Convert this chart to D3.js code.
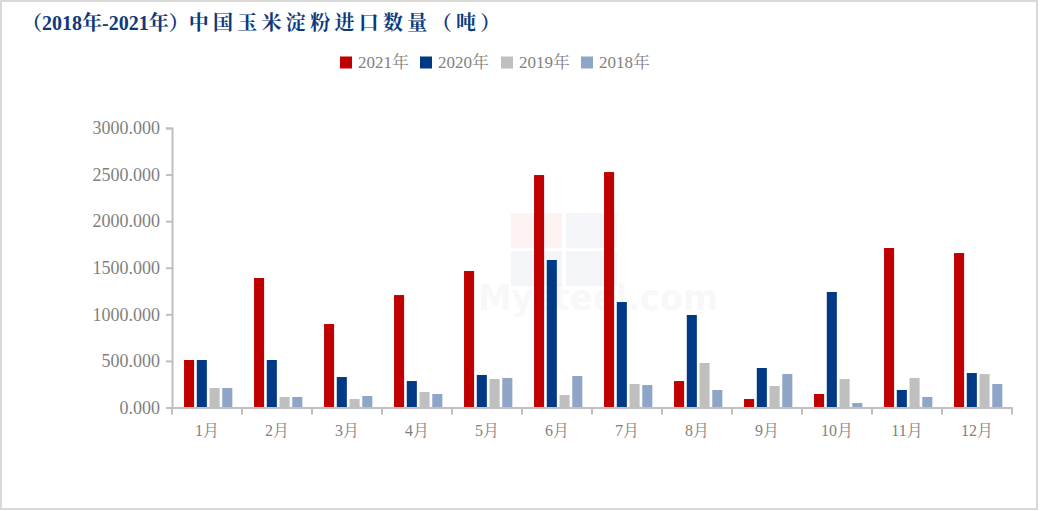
<!DOCTYPE html>
<html><head><meta charset="utf-8">
<script src="https://cdn.jsdelivr.net/npm/d3@7"></script>
<style>
html,body{margin:0;padding:0;background:#fff;}
svg{display:block;}
</style></head>
<body>
<svg id="chart" width="1040" height="511"></svg>
<script>
const months = ["1月","2月","3月","4月","5月","6月","7月","8月","9月","10月","11月","12月"];
const seriesNames = ["2021年","2020年","2019年","2018年"];
const seriesColors = ["#c00000","#003a87","#bfbfbf","#8ea5c8"];
const v2021 = [510,1390,896,1207,1465,2495,2527,284,91,145,1712,1658];
const v2020 = [510,510,327,284,349,1583,1132,993,424,1240,188,370];
const v2019 = [209,113,91,166,306,134,252,478,231,306,317,359];
const v2018 = [209,113,123,145,317,338,241,188,359,48,113,252];
const yTicks = [0,500,1000,1500,2000,2500,3000];
const titleA = "（2018年-2021年）";
const titleB = "中国玉米淀粉进口数量（吨）";

const allSeries = [v2021, v2020, v2019, v2018];
const svg = d3.select("#chart");
const serif = "'Liberation Serif','Times New Roman','Noto Serif CJK SC','Noto Sans CJK SC',serif";

// frame
svg.append("rect").attr("x",1).attr("y",1).attr("width",1036).attr("height",508)
  .attr("fill","#fff").attr("stroke","#d9d9d9").attr("stroke-width",2);

// title
const title = svg.append("text").attr("x",22).attr("y",30)
  .attr("font-family",serif).attr("font-weight","bold").attr("font-size",20)
  .attr("fill","#0d3a7c");
title.append("tspan").text(titleA);
title.append("tspan").attr("letter-spacing",4.3).text(titleB);

const plotL = 172, plotR = 1012, plotT = 128, plotB = 407.5;
const x0 = d3.scaleBand().domain(months).range([plotL,plotR]).padding(0);
const x1 = d3.scaleBand().domain(seriesNames)
  .range([x0.bandwidth()*0.172, x0.bandwidth()*0.862]).paddingInner(0.21).paddingOuter(0);
const y = d3.scaleLinear().domain([0,3000]).range([plotB, plotT]);

// watermark
const wm = svg.append("g").attr("opacity",0.05);
wm.append("rect").attr("x",511).attr("y",213).attr("width",51).attr("height",35).attr("fill","#e03020");
wm.append("rect").attr("x",566).attr("y",213).attr("width",51).attr("height",35).attr("fill","#3050a0");
wm.append("rect").attr("x",511).attr("y",251).attr("width",51).attr("height",35).attr("fill","#3050a0");
wm.append("rect").attr("x",566).attr("y",251).attr("width",51).attr("height",35).attr("fill","#3050a0");
svg.append("text").attr("x",478).attr("y",310).text("Mysteel.com")
  .attr("font-family","'DejaVu Sans',sans-serif").attr("font-weight","bold").attr("font-size",36)
  .attr("textLength",240).attr("lengthAdjust","spacingAndGlyphs")
  .attr("fill","#000").attr("opacity",0.025);

// y axis
const yAxis = d3.axisLeft(y).tickValues(yTicks).tickFormat(d3.format(".3f")).tickSize(6).tickPadding(6);
const gy = svg.append("g").attr("transform",`translate(${plotL},0)`).call(yAxis);
gy.select(".domain").attr("stroke","#bfbfbf").attr("stroke-width",2);
gy.selectAll(".tick line").attr("stroke","#bfbfbf").attr("stroke-width",2);
gy.selectAll(".tick text").attr("font-family",serif).attr("font-size",18).attr("fill","#7f7f7f");

// bars
const groups = svg.append("g").selectAll("g").data(months).join("g")
  .attr("transform", d => `translate(${x0(d)},0)`);
groups.selectAll("rect").data((m,i) => seriesNames.map((s,j) => ({s, v: allSeries[j][i], c: seriesColors[j]})))
  .join("rect")
  .attr("x", d => x1(d.s)).attr("width", x1.bandwidth())
  .attr("y", d => y(d.v)).attr("height", d => y(0) - y(d.v))
  .attr("fill", d => d.c);

// x axis
const xAxis = d3.axisBottom(x0).tickSize(0).tickPadding(17);
const gx = svg.append("g").attr("transform",`translate(0,${plotB})`).call(xAxis);
gx.select(".domain").attr("stroke","#bfbfbf").attr("stroke-width",2);
gx.selectAll(".tick text").attr("font-family",serif).attr("font-size",16).attr("fill","#7f7f7f");
// boundary ticks
const bounds = months.map(m => x0(m)).concat([plotR]);
svg.append("g").selectAll("line").data(bounds).join("line")
  .attr("x1",d=>d).attr("x2",d=>d).attr("y1",plotB).attr("y2",plotB+7)
  .attr("stroke","#bfbfbf").attr("stroke-width",2);

// legend
const legendX = [340, 420, 501, 581];
const lg = svg.append("g").selectAll("g").data(seriesNames).join("g")
  .attr("transform",(d,i)=>`translate(${legendX[i]},0)`);
lg.append("rect").attr("x",0).attr("y",56.5).attr("width",12).attr("height",12)
  .attr("fill",(d,i)=>seriesColors[i]);
lg.append("text").attr("x",18).attr("y",68).text(d=>d)
  .attr("font-family",serif).attr("font-size",17).attr("fill","#7f7f7f");
</script>
</body></html>
